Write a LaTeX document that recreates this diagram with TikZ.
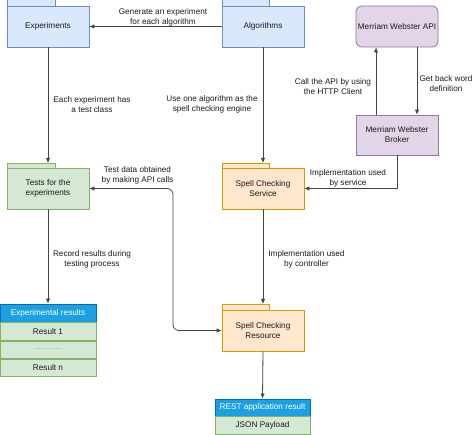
\documentclass[tikz,border=0pt]{standalone}
\usepackage{fontspec}
\setmainfont{Liberation Sans}
\usetikzlibrary{arrows.meta,calc}
\definecolor{bluefill}{HTML}{DAE8FC}
\definecolor{bluestroke}{HTML}{6C8EBF}
\definecolor{greenfill}{HTML}{D5E8D4}
\definecolor{greenstroke}{HTML}{82B366}
\definecolor{orangefill}{HTML}{FFE6CC}
\definecolor{orangestroke}{HTML}{D79B00}
\definecolor{purplefill}{HTML}{E1D5E7}
\definecolor{purplestroke}{HTML}{9673A6}
\definecolor{headfill}{HTML}{1BA1E2}
\definecolor{headstroke}{HTML}{006EAF}
\definecolor{linecol}{HTML}{444444}
\definecolor{textcol}{HTML}{1A1A1A}
\begin{document}
\begin{tikzpicture}[x=1pt,y=-1pt,
  every node/.style={font=\fontsize{8.2}{10}\selectfont, text=textcol, inner sep=0pt},
  pkgbody/.style={draw, line width=0.8pt, minimum width=82pt, minimum height=41pt, align=center},
  pkgtab/.style={draw, line width=0.8pt},
  bluepkg/.style={pkgbody, fill=bluefill, draw=bluestroke},
  greenpkg/.style={pkgbody, fill=greenfill, draw=greenstroke},
  orangepkg/.style={pkgbody, fill=orangefill, draw=orangestroke},
  purplebox/.style={draw=purplestroke, fill=purplefill, line width=0.8pt, rounded corners=6pt, minimum width=82pt, minimum height=41pt, align=center},
  brokerbox/.style={draw=purplestroke, fill=purplefill, line width=0.8pt, minimum width=82pt, minimum height=40pt, align=center},
  headcell/.style={draw=headstroke, fill=headfill, line width=0.8pt, text=white, align=center},
  rowcell/.style={draw=greenstroke, fill=greenfill, line width=0.8pt, align=center},
  conn/.style={draw=linecol, line width=0.8pt, -{Latex[length=5pt,width=4.5pt]}},
  lbl/.style={align=center}
]
\useasboundingbox (0,0) rectangle (474,435);
\clip (0,0) rectangle (474,435);

% package tabs
\draw[pkgtab, fill=bluefill, draw=bluestroke] (7,-6) rectangle (55,6);
\draw[pkgtab, fill=bluefill, draw=bluestroke] (222,-6) rectangle (269,6);
\draw[pkgtab, fill=greenfill, draw=greenstroke] (7,163) rectangle (55,168);
\draw[pkgtab, fill=orangefill, draw=orangestroke] (222,163) rectangle (269,168);
\draw[pkgtab, fill=orangefill, draw=orangestroke] (222,304) rectangle (269,310);

% package bodies
\node[bluepkg] (exp) at (48,26.5) {Experiments};
\node[bluepkg] (alg) at (263,26.5) {Algorithms};
\node[greenpkg] (tests) at (48,188.5) {Tests for the\\experiments};
\node[orangepkg] (svc) at (263,188.5) {Spell Checking\\Service};
\node[orangepkg] (res) at (263,330.5) {Spell Checking\\Resource};

% Merriam Webster
\node[purplebox] (api) at (397,26.5) {Merriam Webster API};
\node[brokerbox] (broker) at (397,135) {Merriam Webster\\Broker};

% Experimental results table
\node[headcell, minimum width=96pt, minimum height=18pt] (exphead) at (48,313) {Experimental results};
\node[rowcell, minimum width=96pt, minimum height=17.33pt, anchor=north] (r1) at (exphead.south) {Result 1};
\node[rowcell, minimum width=96pt, minimum height=17.33pt, anchor=north] (r2) at (r1.south) {\textcolor{gray}{\fontsize{5}{6}\selectfont ...................}};
\node[rowcell, minimum width=96pt, minimum height=17.33pt, anchor=north] (r3) at (r2.south) {Result n};

% REST table
\node[headcell, minimum width=95pt, minimum height=17pt] (resthead) at (262.5,407.5) {REST application result};
\node[rowcell, minimum width=95pt, minimum height=18pt, anchor=north] (json) at (resthead.south) {JSON Payload};

% connectors
\coordinate (testtop) at (48,163);
\coordinate (svctop) at (263,163);
\coordinate (restop) at (263,304);
\draw[conn] (alg.west) -- (exp.east);
\draw[conn] (exp.south) -- (testtop);
\draw[conn] (alg.south) -- (svctop);
\draw[conn] (tests.south) -- (exphead.north);
\draw[conn] (svc.south) -- (restop);
\draw[conn] (res.south) -- (resthead.north);
\coordinate (apil) at (376,0);
\coordinate (apir) at (417,0);
\draw[conn] (broker.north -| apil) -- (api.south -| apil);
\draw[conn] (api.south -| apir) -- (broker.north -| apir);
\draw[conn] (broker.south) |- (svc.east);
\coordinate (bend) at (173,0);
\draw[conn, {Latex[length=5pt,width=4.5pt]}-{Latex[length=5pt,width=4.5pt]}, rounded corners=6pt]
  (tests.east) -- (tests.east -| bend) -- (res.west -| bend) -- (res.west);

% labels
\node[lbl] (l1) at (163,17) {Generate an experiment\\for each algorithm};
\node[lbl] (l2) at (92,104.5) {Each experiment has\\a test class};
\node[lbl] (l3) at (212,104.5) {Use one algorithm as the\\spell checking engine};
\node[lbl] (l4) at (333,87) {Call the API by using\\the HTTP Client};
\node[lbl] (l5) at (446,84) {Get back word\\definition};
\node[lbl] (l6) at (348,178) {Implementation used\\by service};
\node[lbl] (l7) at (137.5,175) {Test data obtained\\by making API calls};
\node[lbl] (l8) at (92,259.5) {Record results during\\testing process};
\node[lbl] (l9) at (306.5,259.5) {Implementation used\\by controller};
\end{tikzpicture}
\end{document}
